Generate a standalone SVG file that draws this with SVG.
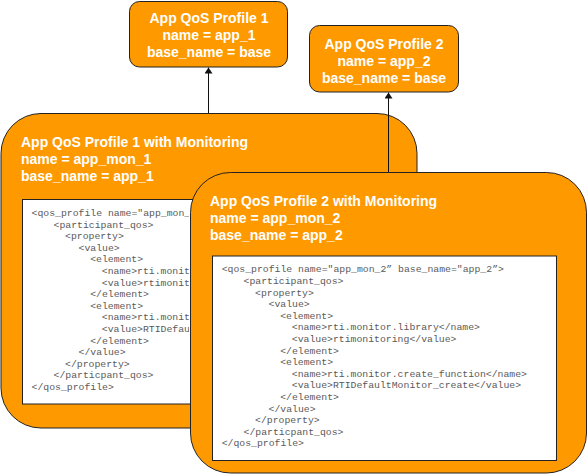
<svg xmlns="http://www.w3.org/2000/svg" width="588" height="475" viewBox="0 0 588 475">
<defs>
<style>
.box{fill:#ff9900;stroke:#222;stroke-width:1}
.code-bg{fill:#fff;stroke:#222;stroke-width:1}
.t{font-family:"Liberation Sans",Arial,sans-serif;font-size:14px;font-weight:bold;fill:#fff}
.c{font-family:"Liberation Sans",Arial,sans-serif;font-size:14px;font-weight:bold;fill:#fff;text-anchor:middle}
.code{font-family:"Liberation Mono","Courier New",monospace;font-size:9.8px;fill:#5a5a5a;white-space:pre}
.conn{stroke:#111;stroke-width:1;fill:none;marker-end:url(#arr)}
</style>
<marker id="arr" viewBox="0 0 6 8" refX="6" refY="4" markerWidth="6" markerHeight="8" markerUnits="userSpaceOnUse" orient="auto">
<path d="M0,0 L6,4 L0,8 Z" fill="#111"/>
</marker>
<clipPath id="clip1"><rect x="0" y="190" width="189" height="220"/></clipPath>
</defs>
<rect width="588" height="475" fill="#fff"/>
<g id="profile1">
<rect class="box" x="129.5" y="1.5" width="158" height="65.5" rx="10"/>
<text class="c" x="209" y="23">App QoS Profile 1</text>
<text class="c" x="209" y="40">name = app_1</text>
<text class="c" x="209" y="57">base_name = base</text>
</g>
<g id="profile2">
<rect class="box" x="309.5" y="25.5" width="149" height="66.5" rx="10"/>
<text class="c" x="384" y="49">App QoS Profile 2</text>
<text class="c" x="384" y="66">name = app_2</text>
<text class="c" x="384" y="83">base_name = base</text>
</g>
<g id="monitor1">
<rect class="box" x="1" y="113.5" width="416" height="314.5" rx="40"/>
<text class="t" x="21" y="147">App QoS Profile 1 with Monitoring</text>
<text class="t" x="21" y="164">name = app_mon_1</text>
<text class="t" x="21" y="181">base_name = app_1</text>
<rect class="code-bg" x="22.5" y="199.5" width="380" height="204.5"/>
<g class="code" clip-path="url(#clip1)">
<text x="31.5" y="216">&lt;qos_profile name="app_mon_</text>
<text x="53.5" y="227.6">&lt;participant_qos&gt;</text>
<text x="65" y="239.2">&lt;property&gt;</text>
<text x="78.5" y="250.8">&lt;value&gt;</text>
<text x="90.2" y="262.4">&lt;element&gt;</text>
<text x="101.8" y="274">&lt;name&gt;rti.monit</text>
<text x="101.8" y="285.6">&lt;value&gt;rtimonit</text>
<text x="90.2" y="297.2">&lt;/element&gt;</text>
<text x="90.2" y="308.8">&lt;element&gt;</text>
<text x="101.8" y="320.4">&lt;name&gt;rti.monit</text>
<text x="101.8" y="332">&lt;value&gt;RTIDefau</text>
<text x="90.2" y="343.6">&lt;/element&gt;</text>
<text x="78.5" y="355.2">&lt;/value&gt;</text>
<text x="65" y="366.8">&lt;/property&gt;</text>
<text x="53.5" y="378.4">&lt;/particpant_qos&gt;</text>
<text x="31.5" y="390">&lt;/qos_profile&gt;</text>
</g>
</g>
<g id="connectors">
<line class="conn" x1="208.5" y1="113" x2="208.5" y2="67.5"/>
<line class="conn" x1="388.5" y1="172" x2="388.5" y2="92.5"/>
</g>
<g id="monitor2">
<rect class="box" x="190.5" y="172.5" width="396" height="300.5" rx="40"/>
<text class="t" x="210" y="206">App QoS Profile 2 with Monitoring</text>
<text class="t" x="210" y="223">name = app_mon_2</text>
<text class="t" x="210" y="240">base_name = app_2</text>
<rect class="code-bg" x="212.5" y="256" width="344" height="204.5"/>
<g class="code">
<text x="221.7" y="272.3">&lt;qos_profile name="app_mon_2” base_name="app_2”&gt;</text>
<text x="243.5" y="283.9">&lt;participant_qos&gt;</text>
<text x="255" y="295.5">&lt;property&gt;</text>
<text x="268.5" y="307.1">&lt;value&gt;</text>
<text x="280.2" y="318.7">&lt;element&gt;</text>
<text x="291.8" y="330.3">&lt;name&gt;rti.monitor.library&lt;/name&gt;</text>
<text x="291.8" y="341.9">&lt;value&gt;rtimonitoring&lt;/value&gt;</text>
<text x="280.2" y="353.5">&lt;/element&gt;</text>
<text x="280.2" y="365.1">&lt;element&gt;</text>
<text x="291.8" y="376.7">&lt;name&gt;rti.monitor.create_function&lt;/name&gt;</text>
<text x="291.8" y="388.3">&lt;value&gt;RTIDefaultMonitor_create&lt;/value&gt;</text>
<text x="280.2" y="399.9">&lt;/element&gt;</text>
<text x="268.5" y="411.5">&lt;/value&gt;</text>
<text x="255" y="423.1">&lt;/property&gt;</text>
<text x="243.5" y="434.7">&lt;/particpant_qos&gt;</text>
<text x="221.7" y="446.3">&lt;/qos_profile&gt;</text>
</g>
</g>
</svg>
